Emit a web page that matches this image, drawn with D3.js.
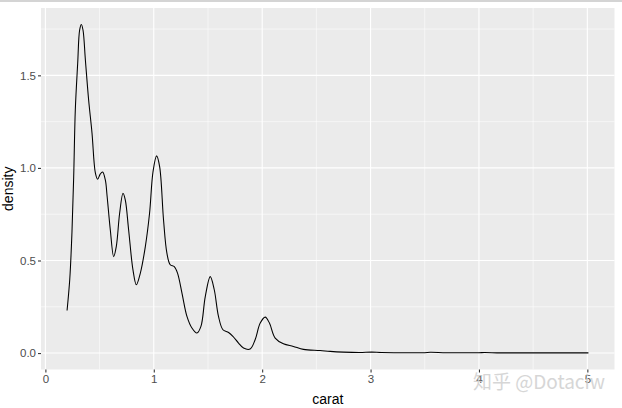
<!DOCTYPE html>
<html><head><meta charset="utf-8">
<script src="https://cdn.jsdelivr.net/npm/d3@7"></script>
<style>body{margin:0;background:#fff}svg{display:block}</style>
</head><body>
<svg id="c" width="622" height="408"></svg>
<script>
const carat = [0.2,0.225,0.245,0.261,0.276,0.298,0.316,0.332,0.347,0.369,0.399,0.43,0.461,0.482,0.507,0.528,0.553,0.569,0.599,0.63,0.654,0.685,0.716,0.737,0.768,0.808,0.839,0.876,0.922,0.961,0.993,1.026,1.054,1.09,1.121,1.152,1.189,1.219,1.26,1.306,1.352,1.398,1.435,1.475,1.521,1.558,1.597,1.638,1.69,1.73,1.782,1.828,1.889,1.935,1.982,2.028,2.067,2.12,2.196,2.288,2.381,2.535,2.627,2.75,2.9,3.01,3.1,3.3,3.5,3.55,3.7,4.0,4.05,4.2,4.5,5.01];
const density = [0.23,0.4,0.65,0.95,1.313,1.565,1.745,1.775,1.745,1.583,1.367,1.189,0.973,0.939,0.968,0.978,0.935,0.85,0.665,0.521,0.575,0.755,0.863,0.827,0.665,0.449,0.369,0.432,0.575,0.755,0.98,1.065,1.007,0.719,0.54,0.477,0.467,0.432,0.324,0.198,0.135,0.108,0.144,0.305,0.413,0.342,0.198,0.126,0.111,0.09,0.054,0.027,0.022,0.072,0.162,0.194,0.162,0.081,0.05,0.036,0.02,0.014,0.009,0.005,0.003,0.005,0.003,0.002,0.002,0.004,0.002,0.002,0.003,0.001,0.001,0.001];
const xTicks = [0,1,2,3,4,5];
const xMinor = [0.5,1.5,2.5,3.5,4.5];
const yTicks = [0,0.5,1.0,1.5];
const yMinor = [0.25,0.75,1.25,1.75];

const svg = d3.select("#c");
const L = 41, R = 614.5, T = 8, B = 369.5;
const xr = d3.extent(carat), xe = (xr[1]-xr[0])*0.05;
const ymax = d3.max(density), ye = ymax*0.05;
const x = d3.scaleLinear().domain([xr[0]-xe, xr[1]+xe]).range([L, R]);
const y = d3.scaleLinear().domain([-ye, ymax+ye]).range([B, T]);

svg.append("rect").attr("x",0).attr("y",0).attr("width",622).attr("height",2).attr("fill","#d4d4d4");
svg.append("rect").attr("x",L).attr("y",T).attr("width",R-L).attr("height",B-T).attr("fill","#ebebeb");

const g = svg.append("g");
g.selectAll(".xm").data(xMinor).join("line").attr("x1",d=>x(d)).attr("x2",d=>x(d)).attr("y1",T).attr("y2",B).attr("stroke","#fff").attr("stroke-width",0.55);
g.selectAll(".ym").data(yMinor).join("line").attr("y1",d=>y(d)).attr("y2",d=>y(d)).attr("x1",L).attr("x2",R).attr("stroke","#fff").attr("stroke-width",0.55);
g.selectAll(".xM").data(xTicks).join("line").attr("x1",d=>x(d)).attr("x2",d=>x(d)).attr("y1",T).attr("y2",B).attr("stroke","#fff").attr("stroke-width",1.1);
g.selectAll(".yM").data(yTicks).join("line").attr("y1",d=>y(d)).attr("y2",d=>y(d)).attr("x1",L).attr("x2",R).attr("stroke","#fff").attr("stroke-width",1.1);

const pts = carat.map((c,i)=>[c,density[i]]);
svg.append("path").datum(pts)
  .attr("d", d3.line().x(d=>x(d[0])).y(d=>y(d[1])).curve(d3.curveCatmullRom.alpha(0.5)))
  .attr("fill","none").attr("stroke","#000").attr("stroke-width",1.07);

const xa = svg.append("g").attr("transform",`translate(0,${B})`)
  .call(d3.axisBottom(x).tickValues(xTicks).tickFormat(d3.format("d")).tickSize(3).tickPadding(2));
const ya = svg.append("g").attr("transform",`translate(${L},0)`)
  .call(d3.axisLeft(y).tickValues(yTicks).tickFormat(d3.format(".1f")).tickSize(3).tickPadding(2));
[xa,ya].forEach(a=>{
  a.select(".domain").remove();
  a.selectAll(".tick line").attr("stroke","#333").attr("stroke-width",1.07);
  a.selectAll("text").attr("fill","#4d4d4d").style("font-family","Liberation Sans, Arial, sans-serif").style("font-size","11.5px");
});

svg.append("text").attr("x",(L+R)/2).attr("y",404).attr("text-anchor","middle")
  .style("font-family","Liberation Sans, Arial, sans-serif").style("font-size","14px").attr("fill","#000").text("carat");
svg.append("text").attr("transform",`translate(13,${(T+B)/2}) rotate(-90)`).attr("text-anchor","middle")
  .style("font-family","Liberation Sans, Arial, sans-serif").style("font-size","14px").attr("fill","#000").text("density");

svg.append("text").attr("x",605).attr("y",389).attr("text-anchor","end")
  .style("font-family","Noto Sans CJK SC, sans-serif").style("font-size","19px")
  .attr("fill","#d0d0d0").attr("opacity",0.85).text("知乎 @Dotaciw");
</script>
</body></html>
